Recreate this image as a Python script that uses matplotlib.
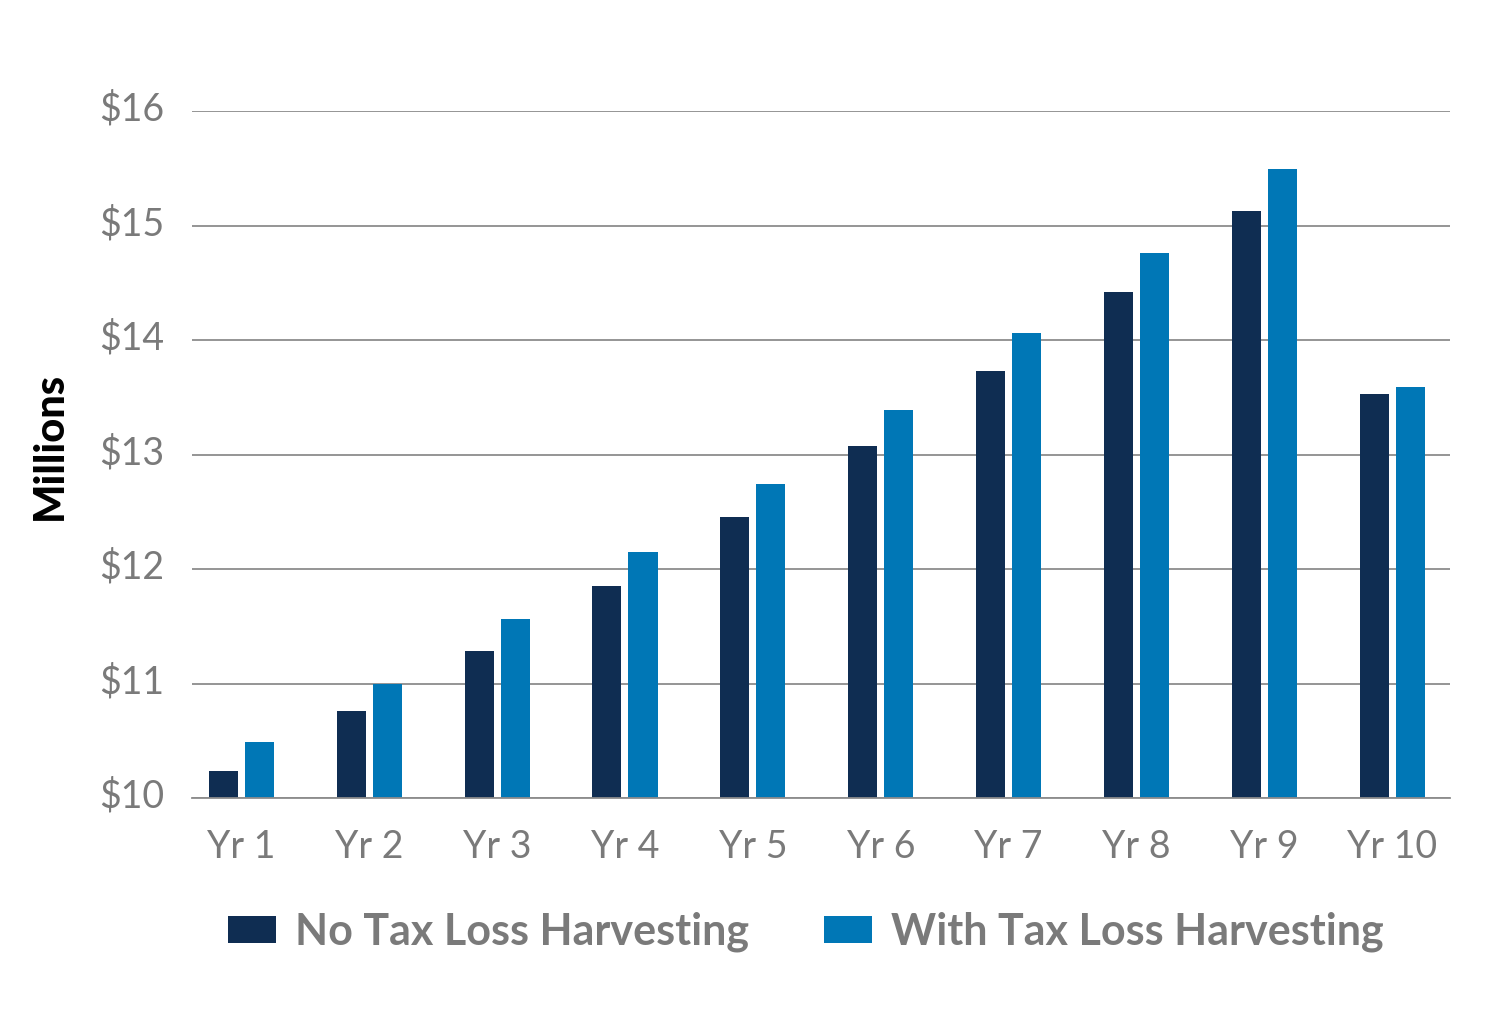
import matplotlib
matplotlib.use("Agg")
import matplotlib.pyplot as plt
import matplotlib.transforms as mtransforms
import numpy as np

categories = ["Yr 1", "Yr 2", "Yr 3", "Yr 4", "Yr 5", "Yr 6", "Yr 7", "Yr 8", "Yr 9", "Yr 10"]
no_tlh = [10.24, 10.76, 11.28, 11.85, 12.45, 13.07, 13.73, 14.42, 15.13, 13.53]
with_tlh = [10.49, 11.00, 11.56, 12.15, 12.74, 13.39, 14.06, 14.76, 15.49, 13.59]
yticks = [10, 11, 12, 13, 14, 15, 16]
ytick_labels = ["$10", "$11", "$12", "$13", "$14", "$15", "$16"]
series_names = ["No Tax Loss Harvesting", "With Tax Loss Harvesting"]

DARK = "#0F2D52"
LIGHT = "#0077B6"
GRAY = "#7A7A7A"
FONT = ["Lato", "DejaVu Sans"]

plt.rcParams["font.family"] = FONT

fig = plt.figure(figsize=(14.92, 10.28), dpi=100)
ax = fig.add_axes([192/1492, 1-798/1028, (1450-192)/1492, (798-111)/1028])

x = np.arange(len(categories))
w = 0.227
off = 0.141
ax.bar(x - off, no_tlh, width=w, color=DARK, label=series_names[0], zorder=3)
ax.bar(x + off, with_tlh, width=w, color=LIGHT, label=series_names[1], zorder=3)

ax.set_ylim(10, 16)
ax.set_xlim(-0.385, 9.45)
ax.set_yticks(yticks)
ax.set_yticklabels(ytick_labels)
ax.set_xticks(x)
ax.set_xticklabels(categories)
ax.grid(axis="y", color="#8C8C8C", linewidth=1.3, zorder=0)
for s in ["top", "right", "left"]:
    ax.spines[s].set_visible(False)
ax.spines["bottom"].set_color("#8C8C8C")
ax.spines["bottom"].set_linewidth(1.3)
ax.spines["bottom"].set_zorder(4)
ax.tick_params(axis="both", length=0, labelsize=27, labelcolor=GRAY)
ax.tick_params(axis="y", pad=20)
ax.tick_params(axis="x", pad=22)

shift = mtransforms.ScaledTranslation(0, 5/100, fig.dpi_scale_trans)
for lbl in ax.get_yticklabels():
    lbl.set_transform(lbl.get_transform() + shift)

fig.text(50/1492, 1-446/1028, "Millions", rotation=90, ha="center", va="center",
         fontsize=30, fontweight="black", color="black")

leg = fig.legend(loc="center", bbox_to_anchor=(806/1492, 1-932/1028), ncol=2, frameon=False,
                 prop={"size": 31, "weight": "bold"}, handlelength=1.1, handleheight=0.6,
                 handletextpad=0.45, columnspacing=1.75)
for t in leg.get_texts():
    t.set_color(GRAY)

fig.savefig("out.png", dpi=100)
